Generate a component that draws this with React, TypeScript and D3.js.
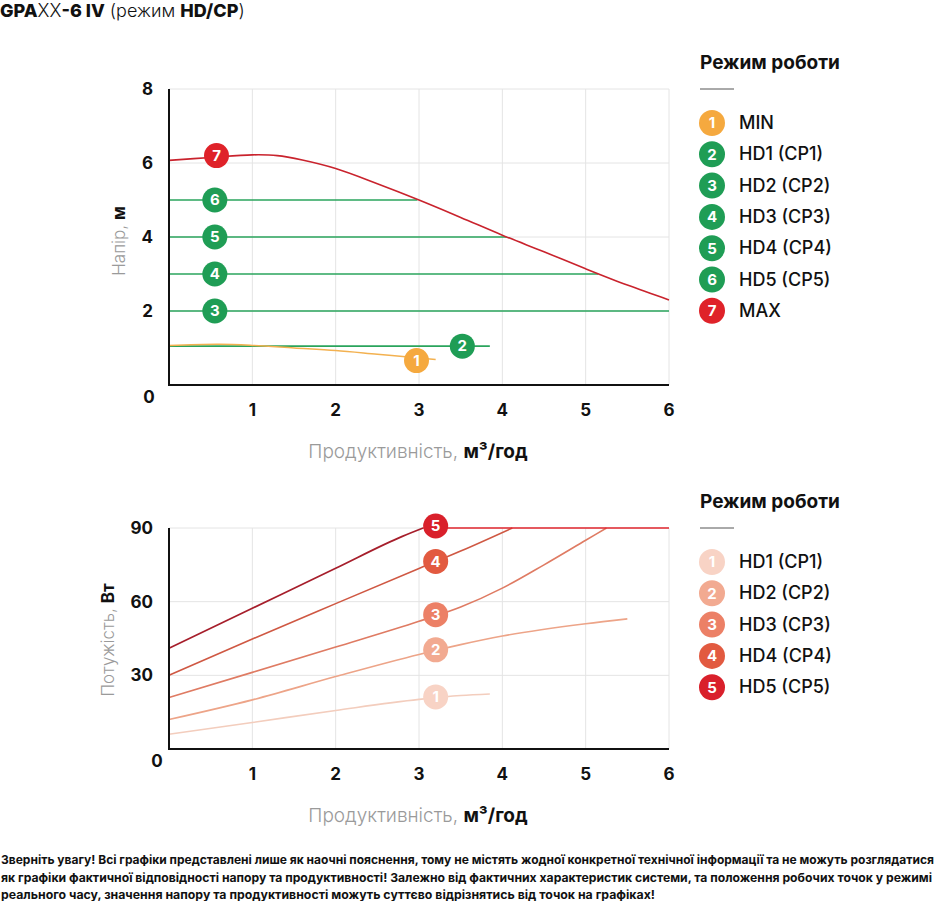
import * as d3 from 'd3';

// ---- data ----
const flowTicks = [1, 2, 3, 4, 5, 6];
const headTicks = [2, 4, 6, 8];
const powerTicks = [30, 60, 90];

const headModeLabels = ['MIN', 'HD1 (CP1)', 'HD2 (CP2)', 'HD3 (CP3)', 'HD4 (CP4)', 'HD5 (CP5)', 'MAX'];
const powerModeLabels = ['HD1 (CP1)', 'HD2 (CP2)', 'HD3 (CP3)', 'HD4 (CP4)', 'HD5 (CP5)'];

// head curves, [flow m3/h, head m]
const headMaxCurve: [number, number][] = [
  [0, 6.07], [0.5, 6.15], [1.0, 6.22], [1.3, 6.2], [1.6, 6.08], [2.0, 5.85], [2.5, 5.44],
  [3.0, 5.0], [3.5, 4.53], [4.0, 4.05], [4.5, 3.6], [5.0, 3.14], [5.5, 2.7], [6.0, 2.3],
];
const headMinCurve: [number, number][] = [
  [0, 1.07], [0.6, 1.1], [1.0, 1.07], [1.5, 1.0], [2.0, 0.93], [2.5, 0.83], [3.0, 0.73], [3.2, 0.69],
];
// constant head modes HD1..HD5: head level and where the line stops
const cpHeads = [1.05, 2, 3, 4, 5];
const cpEnds = [3.85, 6, 5.15, 4.05, 2.98];
// badge anchors for MIN, HD1..HD5, MAX
const headBadges: [number, number][] = [
  [2.97, 0.66], [3.52, 1.05], [0.55, 2], [0.55, 3], [0.55, 4], [0.55, 5], [0.57, 6.2],
];

// power curves, [flow m3/h, power W]
const powerHD1: [number, number][] = [[0, 6], [1, 10.8], [2, 15.7], [3, 20.2], [3.5, 21.8], [3.85, 22.4]];
const powerHD2: [number, number][] = [[0, 12], [1, 20], [2, 29.5], [3, 38.5], [3.5, 42.5], [4, 46], [5, 51], [5.5, 53]];
const powerHD3: [number, number][] = [[0, 21], [1, 31.2], [2, 41.5], [3, 52], [3.5, 57.8], [4, 65.5], [4.5, 75], [5, 85], [5.25, 90]];
const powerHD4: [number, number][] = [[0, 30], [1, 44.8], [2, 59.2], [3, 73.5], [3.5, 80.6], [4.12, 90]];
const powerHD5: [number, number][] = [[0, 41], [1, 57.3], [2, 73.6], [2.8, 86.6], [3.05, 90], [3.4, 90], [6, 90]];
const powerCurves = [powerHD1, powerHD2, powerHD3, powerHD4, powerHD5];
const powerBadges: [number, number][] = [[3.2, 21.2], [3.2, 40.4], [3.2, 54.7], [3.2, 76.4], [3.2, 90.8]];

const footerLines = [
  'Зверніть увагу! Всі графіки представлені лише як наочні пояснення, тому не містять жодної конкретної технічної інформації та не можуть розглядатися',
  'як графіки фактичної відповідності напору та продуктивності! Залежно від фактичних характеристик системи, та положення робочих точок у режимі',
  'реального часу, значення напору та продуктивності можуть суттєво відрізнятись від точок на графіках!',
];

// ---- styling ----
const FONT = 'Inter, "Noto Sans", sans-serif';
const headBadgeColors = ['#f5a93f', '#1f9d55', '#1f9d55', '#1f9d55', '#1f9d55', '#1f9d55', '#df2229'];
const powerBadgeColors = ['#f8d3c5', '#f2aa91', '#ec8066', '#e25a40', '#d9202b'];
const powerLineColors = ['#f3cdbd', '#eda488', '#df7b63', '#cf5843', '#a61e2b'];

const x = d3.scaleLinear().domain([0, 6]).range([169, 669]);
const yHead = d3.scaleLinear().domain([0, 8]).range([385, 89]);
const yPower = d3.scaleLinear().domain([0, 90]).range([749, 528]);

function Badge({ cx, cy, fill, n, r = 12.5 }: { cx: number; cy: number; fill: string; n: number; r?: number }) {
  return (
    <g>
      <circle cx={cx} cy={cy} r={r} fill={fill} />
      <text x={cx} y={cy + 5.3} textAnchor="middle" fill="#fff" fontSize={15} fontWeight={700}>
        {n}
      </text>
    </g>
  );
}

function Grid({ y, ticks }: { y: d3.ScaleLinear<number, number>; ticks: number[] }) {
  const [y0, y1] = y.range();
  return (
    <g>
      {flowTicks.map((t) => (
        <line key={'v' + t} x1={x(t)} x2={x(t)} y1={y0} y2={y1} stroke="#e4e4e4" strokeWidth={1} />
      ))}
      {ticks.map((t) => (
        <line key={'h' + t} x1={x(0)} x2={x(6)} y1={y(t)} y2={y(t)} stroke="#e4e4e4" strokeWidth={1} />
      ))}
    </g>
  );
}

function Axes({ y, ticks, zeroX, zeroY, labelY }: {
  y: d3.ScaleLinear<number, number>; ticks: number[]; zeroX: number; zeroY: number; labelY: number;
}) {
  const [y0, y1] = y.range();
  return (
    <g fontSize={17} fontWeight={700} fill="#111">
      <line x1={x(0)} x2={x(0)} y1={y1} y2={y0 + 1} stroke="#111" strokeWidth={2} />
      <line x1={x(0) - 1} x2={x(6)} y1={y0} y2={y0} stroke="#111" strokeWidth={2} />
      {ticks.map((t) => (
        <text key={t} x={153} y={y(t) + 6} textAnchor="end">{t}</text>
      ))}
      <text x={zeroX} y={zeroY} textAnchor="middle">0</text>
      {flowTicks.map((t) => (
        <text key={t} x={x(t)} y={labelY} textAnchor="middle">{t}</text>
      ))}
    </g>
  );
}

function Legend({ top, labels, colors }: { top: number; labels: string[]; colors: string[] }) {
  return (
    <g>
      <text x={700} y={top + 7} fontSize={19} fontWeight={700} fill="#111">Режим роботи</text>
      <line x1={700} x2={734} y1={top + 27} y2={top + 27} stroke="#555" strokeWidth={1} />
      {labels.map((l, i) => (
        <g key={l}>
          <Badge cx={712} cy={top + 61 + i * 31.3} fill={colors[i]} n={i + 1} r={13} />
          <text x={739} y={top + 67 + i * 31.3} fontSize={18} fontWeight={500} fill="#111">{l}</text>
        </g>
      ))}
    </g>
  );
}

export default function App() {
  const headLine = d3.line<[number, number]>().x((d) => x(d[0])).y((d) => yHead(d[1])).curve(d3.curveCatmullRom.alpha(0.5));
  const powerLine = d3.line<[number, number]>().x((d) => x(d[0])).y((d) => yPower(d[1])).curve(d3.curveMonotoneX);

  const hd5Rise = powerHD5.filter((d) => d[0] <= 3.05);
  const hd5Flat = powerHD5.filter((d) => d[0] >= 3.05);

  return (
    <svg
      width={939}
      height={901}
      viewBox="0 0 939 901"
      style={{ position: 'absolute', left: 0, top: 0, background: '#fff' }}
      fontFamily={FONT}
    >
      {/* title */}
      <text x={0} y={17} fontSize={18} fill="#111">
        <tspan fontWeight={800}>GPA</tspan>
        <tspan fontWeight={300}>XX</tspan>
        <tspan fontWeight={800}>-6 IV</tspan>
        <tspan fontWeight={300}> (режим </tspan>
        <tspan fontWeight={800}>HD/CP</tspan>
        <tspan fontWeight={300}>)</tspan>
      </text>

      {/* head chart */}
      <Grid y={yHead} ticks={headTicks} />
      {cpHeads.map((h, i) => (
        <line key={h} x1={x(0)} x2={x(cpEnds[i])} y1={yHead(h)} y2={yHead(h)} stroke="#2aa45c" strokeWidth={1.6} />
      ))}
      <path d={headLine(headMinCurve) ?? ''} fill="none" stroke="#f3b150" strokeWidth={1.5} />
      <path d={headLine(headMaxCurve) ?? ''} fill="none" stroke="#c9232d" strokeWidth={1.6} />
      <Axes y={yHead} ticks={headTicks} zeroX={149} zeroY={403} labelY={416} />
      {headBadges.map((b, i) => (
        <Badge key={i} cx={x(b[0])} cy={yHead(b[1])} fill={headBadgeColors[i]} n={i + 1} />
      ))}
      <text transform="translate(125,241) rotate(-90)" textAnchor="middle" fontSize={17} fill="#111">
        <tspan fontWeight={300} fill="#9a9a9a">Напір, </tspan>
        <tspan fontWeight={700}>м</tspan>
      </text>
      <text x={418} y={458} textAnchor="middle" fontSize={19} fill="#111">
        <tspan fontWeight={300} fill="#9a9a9a">Продуктивність, </tspan>
        <tspan fontWeight={700}>м³/год</tspan>
      </text>
      <Legend top={62} labels={headModeLabels} colors={headBadgeColors} />

      {/* power chart */}
      <Grid y={yPower} ticks={powerTicks} />
      {powerCurves.slice(0, 4).map((c, i) => (
        <path key={i} d={powerLine(c) ?? ''} fill="none" stroke={powerLineColors[i]} strokeWidth={1.6} />
      ))}
      <path d={powerLine(hd5Rise) ?? ''} fill="none" stroke={powerLineColors[4]} strokeWidth={1.7} />
      <path d={powerLine(hd5Flat) ?? ''} fill="none" stroke="#e0262e" strokeWidth={1.7} />
      <Axes y={yPower} ticks={powerTicks} zeroX={157} zeroY={767} labelY={780} />
      {powerBadges.map((b, i) => (
        <Badge key={i} cx={x(b[0])} cy={yPower(b[1])} fill={powerBadgeColors[i]} n={i + 1} />
      ))}
      <text transform="translate(114,640) rotate(-90)" textAnchor="middle" fontSize={17} fill="#111">
        <tspan fontWeight={300} fill="#9a9a9a">Потужість, </tspan>
        <tspan fontWeight={700}>Вт</tspan>
      </text>
      <text x={418} y={822} textAnchor="middle" fontSize={19} fill="#111">
        <tspan fontWeight={300} fill="#9a9a9a">Продуктивність, </tspan>
        <tspan fontWeight={700}>м³/год</tspan>
      </text>
      <Legend top={501} labels={powerModeLabels} colors={powerBadgeColors} />

      {/* footer note */}
      {footerLines.map((l, i) => (
        <text
          key={i}
          x={1}
          y={864 + i * 17.5}
          fontSize={12}
          fontWeight={700}
          fill="#111"
          textLength={[933, 931, 654][i]}
          lengthAdjust="spacingAndGlyphs"
        >
          {l}
        </text>
      ))}
    </svg>
  );
}
